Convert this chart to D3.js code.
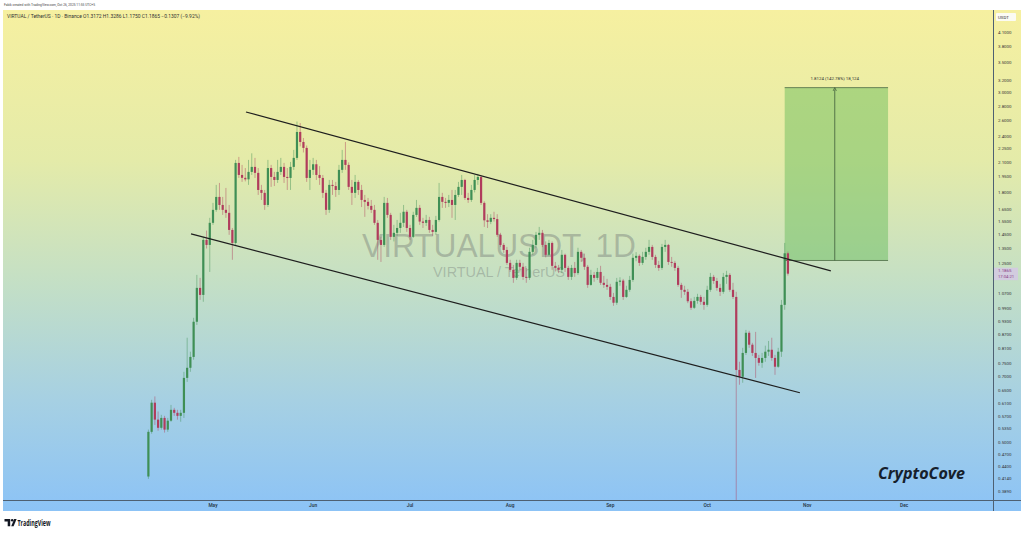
<!DOCTYPE html>
<html><head><meta charset="utf-8">
<script src="https://cdn.jsdelivr.net/npm/d3@7"></script>
<style>html,body{margin:0;padding:0;background:#fff;overflow:hidden;} svg{display:block;}</style>
</head><body><svg id="c" width="1024" height="535"></svg>
<script>
// ---------- DATA ----------
const firstDay = "2025-04-11";
const lastDay = "2025-10-26";
const open = [0.419,0.527,0.612,0.561,0.538,0.566,0.533,0.558,0.590,0.581,0.572,0.581,0.695,0.732,0.774,0.927,1.103,1.064,1.411,1.375,
1.540,1.646,1.759,1.688,1.646,1.621,1.485,1.389,2.094,1.969,1.940,1.925,2.000,2.052,1.990,1.823,1.796,1.688,2.040,1.949,
1.919,2.000,2.052,1.949,1.939,2.052,2.149,2.455,2.332,2.262,1.939,2.021,2.080,1.969,1.939,1.796,1.646,1.871,1.860,1.823,
2.021,2.127,2.073,1.852,1.796,1.900,1.823,1.732,1.715,1.680,1.646,1.540,1.411,1.375,1.706,1.604,1.433,1.463,1.500,1.540,
1.630,1.500,1.433,1.604,1.663,1.550,1.540,1.563,1.485,1.470,1.563,1.759,1.715,1.706,1.732,1.688,1.777,1.852,1.919,1.750,
1.732,1.823,1.919,1.949,1.706,1.560,1.548,1.580,1.570,1.448,1.375,1.340,1.254,1.210,1.161,1.254,1.229,1.167,1.161,1.327,
1.375,1.448,1.463,1.375,1.307,1.389,1.235,1.222,1.210,1.307,1.222,1.167,1.222,1.190,1.327,1.287,1.229,1.120,1.179,1.161,
1.197,1.132,1.120,1.109,1.053,1.022,1.138,1.145,1.053,1.092,1.149,1.287,1.300,1.254,1.293,1.327,1.361,1.293,1.241,1.222,
1.361,1.375,1.260,1.254,1.222,1.120,1.092,1.081,1.030,0.996,1.032,1.053,1.027,1.011,1.092,1.167,1.143,1.103,1.081,1.167,
1.179,1.092,1.053,0.724,0.699,0.790,0.876,0.824,0.790,0.770,0.751,0.770,0.795,0.803,0.770,0.736,0.795,1.011,1.3172];
const high = [0.533,0.621,0.632,0.585,0.575,0.572,0.566,0.605,0.596,0.590,0.590,0.717,0.854,0.795,0.946,1.179,1.161,1.433,1.480,1.580,
1.706,1.871,1.890,1.759,1.842,1.688,1.500,2.127,2.160,2.073,2.040,2.127,2.200,2.149,2.040,1.871,1.823,2.127,2.073,2.000,
2.127,2.149,2.094,2.040,2.105,2.239,2.590,2.570,2.380,2.290,2.127,2.149,2.127,2.060,1.969,1.823,1.919,1.919,1.900,2.073,
2.239,2.332,2.100,1.919,1.969,1.919,1.871,1.777,1.750,1.732,1.688,1.563,1.433,1.759,1.750,1.621,1.524,1.563,1.621,1.688,
1.646,1.524,1.630,1.732,1.688,1.580,1.604,1.588,1.524,1.596,1.890,1.796,1.750,1.777,1.823,1.823,1.900,1.969,1.930,1.796,
1.871,1.969,1.980,1.960,1.720,1.610,1.610,1.630,1.610,1.463,1.389,1.361,1.274,1.241,1.274,1.274,1.254,1.222,1.355,1.411,
1.470,1.508,1.485,1.400,1.411,1.400,1.260,1.241,1.340,1.315,1.235,1.241,1.260,1.355,1.340,1.315,1.241,1.210,1.197,1.222,
1.235,1.173,1.155,1.126,1.075,1.161,1.165,1.155,1.115,1.173,1.315,1.325,1.310,1.327,1.355,1.411,1.375,1.307,1.267,1.382,
1.411,1.382,1.293,1.267,1.235,1.132,1.115,1.097,1.045,1.053,1.070,1.064,1.053,1.115,1.191,1.179,1.161,1.126,1.191,1.204,
1.190,1.132,1.081,0.755,0.811,0.889,0.885,0.832,0.880,0.782,0.790,0.820,0.840,0.854,0.782,0.811,1.037,1.389,1.3286];
const low = [0.414,0.522,0.546,0.530,0.533,0.525,0.527,0.555,0.572,0.561,0.555,0.566,0.681,0.717,0.763,0.912,1.037,1.027,1.350,1.197,
1.524,1.630,1.646,1.604,1.580,1.448,1.274,1.375,1.939,1.900,1.905,1.871,1.969,1.939,1.777,1.732,1.646,1.670,1.852,1.860,
1.890,1.969,1.890,1.823,1.823,2.021,2.127,2.280,2.210,1.900,1.823,1.969,1.919,1.871,1.750,1.604,1.621,1.777,1.759,1.777,
1.990,2.021,1.823,1.688,1.750,1.777,1.670,1.588,1.650,1.620,1.524,1.274,1.260,1.361,1.580,1.411,1.400,1.440,1.463,1.508,
1.470,1.411,1.425,1.588,1.524,1.500,1.516,1.463,1.440,1.448,1.550,1.663,1.663,1.670,1.580,1.563,1.759,1.777,1.732,1.706,
1.715,1.800,1.871,1.688,1.508,1.500,1.530,1.550,1.433,1.361,1.320,1.241,1.197,1.132,1.149,1.200,1.149,1.132,1.149,1.307,
1.355,1.411,1.360,1.290,1.300,1.210,1.200,1.190,1.190,1.197,1.149,1.149,1.167,1.179,1.260,1.210,1.103,1.115,1.138,1.149,
1.120,1.103,1.092,1.037,1.006,1.011,1.115,1.037,1.048,1.081,1.138,1.265,1.235,1.241,1.274,1.307,1.274,1.222,1.204,1.210,
1.327,1.241,1.229,1.204,1.109,1.048,1.064,1.020,0.985,0.990,1.017,1.011,0.986,1.001,1.081,1.126,1.087,1.058,1.070,1.126,
1.081,1.042,0.300,0.671,0.678,0.782,0.811,0.778,0.695,0.740,0.732,0.755,0.778,0.759,0.706,0.732,0.774,0.986,1.1750];
const close = [0.527,0.612,0.561,0.538,0.566,0.533,0.558,0.590,0.581,0.572,0.581,0.695,0.732,0.774,0.927,1.103,1.064,1.411,1.375,1.540,
1.646,1.759,1.688,1.646,1.621,1.485,1.389,2.094,1.969,1.940,1.925,2.000,2.052,1.990,1.823,1.796,1.688,2.040,1.949,1.919,
2.000,2.052,1.949,1.939,2.052,2.149,2.455,2.332,2.262,1.939,2.021,2.080,1.969,1.939,1.796,1.646,1.871,1.860,1.823,2.021,
2.127,2.073,1.852,1.796,1.900,1.823,1.732,1.715,1.680,1.646,1.540,1.411,1.375,1.706,1.604,1.433,1.463,1.500,1.540,1.630,
1.500,1.433,1.604,1.663,1.550,1.540,1.563,1.485,1.470,1.563,1.759,1.715,1.706,1.732,1.688,1.777,1.852,1.919,1.750,1.732,
1.823,1.919,1.949,1.706,1.560,1.548,1.580,1.570,1.448,1.375,1.340,1.254,1.210,1.161,1.254,1.229,1.167,1.161,1.327,1.375,
1.448,1.463,1.375,1.307,1.389,1.235,1.222,1.210,1.307,1.222,1.167,1.222,1.190,1.327,1.287,1.229,1.120,1.179,1.161,1.197,
1.132,1.120,1.109,1.053,1.022,1.138,1.145,1.053,1.092,1.149,1.287,1.300,1.254,1.293,1.327,1.361,1.293,1.241,1.222,1.361,
1.375,1.260,1.254,1.222,1.120,1.092,1.081,1.030,0.996,1.032,1.053,1.027,1.011,1.092,1.167,1.143,1.103,1.081,1.167,1.179,
1.092,1.053,0.724,0.699,0.790,0.876,0.824,0.790,0.770,0.751,0.770,0.795,0.803,0.770,0.736,0.795,1.011,1.3172,1.1865];

const priceTicks = [4.1,3.8,3.5,3.2,3.0,2.8,2.6,2.4,2.25,2.1,1.95,1.8,1.65,1.55,1.45,1.35,1.25,1.07,0.99,0.93,0.87,0.81,0.75,0.70,0.65,0.61,0.57,0.535,0.50,0.47,0.44,0.414,0.389];
const monthTicks = ["2025-05-01","2025-06-01","2025-07-01","2025-08-01","2025-09-01","2025-10-01","2025-11-01","2025-12-01"];
const monthLabels = ["May","Jun","Jul","Aug","Sep","Oct","Nov","Dec"];
const upperChannel = [["2025-05-11T05:00",2.72],["2025-11-08T07:00",1.204]];
const lowerChannel = [["2025-04-24T05:00",1.455],["2025-10-29T17:00",0.644]];
const targetFrom = "2025-10-25", targetTo = "2025-11-26", targetMid = "2025-11-09T12:00";
const targetLow = 1.2694, targetHigh = 3.0818;
const targetLabel = "1.8124 (142.78%) 18,124";
const lastPrice = 1.1865, countdown = "17:04:21";
const headerTop = "Fabik created with TradingView.com, Oct 26, 2025 11:55 UTC+5";
const headerLegend = "VIRTUAL / TetherUS · 1D · Binance  O1.3172  H1.3286  L1.1750  C1.1865  −0.1307 (−9.92%)";

// ---------- SETUP ----------
const svg = d3.select("#c");
const P = {left: 3, right: 993, top: 10, bottom: 500, axisRight: 1021, axisBottom: 511};
const parse = d3.utcParse("%Y-%m-%d"), parseT = d3.utcParse("%Y-%m-%dT%H:%M");
const pd = s => s.length > 10 ? parseT(s) : parse(s);

const x = d3.scaleUtc().domain([parse("2025-04-11"), parse("2025-12-01")]).range([148.4, 904.2]);
const y = d3.scaleLog().domain([0.389, 4.1]).range([491, 32]);

const days = d3.utcDay.range(parse(firstDay), d3.utcDay.offset(parse(lastDay), 1));
const candles = days.map((d, i) => ({d, o: open[i], h: high[i], l: low[i], c: close[i]}));

// background gradient
const defs = svg.append("defs");
const g = defs.append("linearGradient").attr("id", "bg").attr("x1", 0).attr("y1", 0).attr("x2", 0).attr("y2", 1);
[[0, "#f6f0a0"], [0.3, "#e4eba9"], [0.55, "#c3dfc6"], [0.78, "#a6d0e3"], [1, "#8cc3f6"]]
  .forEach(([o, c]) => g.append("stop").attr("offset", o).attr("stop-color", c));
defs.append("clipPath").attr("id", "pane").append("rect")
  .attr("x", P.left).attr("y", P.top).attr("width", P.right - P.left).attr("height", P.bottom - P.top);

svg.append("rect").attr("x", P.left).attr("y", P.top).attr("width", P.axisRight - P.left)
  .attr("height", P.axisBottom - P.top).attr("fill", "url(#bg)");

// header
svg.append("text").attr("x", 4).attr("y", 6).attr("font-family", "Roboto, 'Liberation Sans', sans-serif")
  .attr("font-size", 4).attr("fill", "#444").attr("textLength", 91).attr("lengthAdjust", "spacingAndGlyphs").text(headerTop);
svg.append("text").attr("x", 7).attr("y", 17.5).attr("font-family", "Roboto, 'Liberation Sans', sans-serif")
  .attr("font-size", 4.6).attr("fill", "#333").attr("textLength", 193).attr("lengthAdjust", "spacingAndGlyphs").text(headerLegend);

const pane = svg.append("g").attr("clip-path", "url(#pane)");

// watermark
pane.append("text").attr("x", 499).attr("y", 257).attr("text-anchor", "middle")
  .attr("font-family", "'Liberation Sans', Arial, sans-serif").attr("font-size", 34)
  .attr("fill", "rgba(105,110,110,0.38)").attr("textLength", 274).attr("lengthAdjust", "spacingAndGlyphs").text("VIRTUALUSDT, 1D");
pane.append("text").attr("x", 499).attr("y", 277).attr("text-anchor", "middle")
  .attr("font-family", "'Liberation Sans', Arial, sans-serif").attr("font-size", 14)
  .attr("fill", "rgba(105,110,110,0.35)").attr("textLength", 132).attr("lengthAdjust", "spacingAndGlyphs").text("VIRTUAL / TetherUS");

// target box
const tx0 = x(pd(targetFrom)), tx1 = x(pd(targetTo)), tm = x(pd(targetMid));
pane.append("rect").attr("x", tx0).attr("y", y(targetHigh)).attr("width", tx1 - tx0)
  .attr("height", y(targetLow) - y(targetHigh)).attr("fill", "rgba(95,185,85,0.45)");
pane.append("line").attr("x1", tx0).attr("x2", tx1).attr("y1", y(targetHigh)).attr("y2", y(targetHigh))
  .attr("stroke", "#4d6a45").attr("stroke-width", 0.8);
pane.append("line").attr("x1", tx0).attr("x2", tx1).attr("y1", y(targetLow)).attr("y2", y(targetLow))
  .attr("stroke", "#4d6a45").attr("stroke-width", 0.8);
pane.append("line").attr("x1", tm).attr("x2", tm).attr("y1", y(targetLow)).attr("y2", y(targetHigh) + 2)
  .attr("stroke", "#3f5a3a").attr("stroke-width", 0.8);
pane.append("path").attr("d", `M${tm - 1.6},${y(targetHigh) + 3.2}L${tm},${y(targetHigh)}L${tm + 1.6},${y(targetHigh) + 3.2}`)
  .attr("fill", "none").attr("stroke", "#3f5a3a").attr("stroke-width", 0.8);
pane.append("text").attr("x", tm).attr("y", y(targetHigh) - 7.5).attr("text-anchor", "middle")
  .attr("font-family", "Roboto, 'Liberation Sans', sans-serif").attr("font-size", 4.4).attr("fill", "#333").text(targetLabel);

// candles
const up = "#3f8f55", dn = "#b03c5c";
const cg = pane.append("g");
cg.selectAll("line.w").data(candles).join("line")
  .attr("x1", d => x(d.d)).attr("x2", d => x(d.d)).attr("y1", d => y(d.h)).attr("y2", d => y(Math.max(d.l, 0.2)))
  .attr("stroke", d => d.c >= d.o ? up : dn).attr("stroke-opacity", 0.5).attr("stroke-width", 0.9);
cg.selectAll("rect").data(candles).join("rect")
  .attr("x", d => x(d.d) - 1.1).attr("width", 2.2)
  .attr("y", d => y(Math.max(d.o, d.c)))
  .attr("height", d => Math.max(0.8, Math.abs(y(d.o) - y(d.c))))
  .attr("fill", d => d.c >= d.o ? up : dn);

// channel lines
const line = d3.line().x(d => x(pd(d[0]))).y(d => y(d[1]));
[upperChannel, lowerChannel].forEach(ch =>
  pane.append("path").attr("d", line(ch)).attr("stroke", "#1e1e1e").attr("stroke-width", 1.2).attr("fill", "none"));

// axes frame
svg.append("line").attr("x1", P.left).attr("x2", P.axisRight).attr("y1", P.bottom + 0.5).attr("y2", P.bottom + 0.5)
  .attr("stroke", "#4e6072").attr("stroke-width", 1);
svg.append("line").attr("x1", P.right + 0.5).attr("x2", P.right + 0.5).attr("y1", P.top).attr("y2", P.axisBottom)
  .attr("stroke", "#4e6072").attr("stroke-width", 1);

// price axis labels
const fmt = d3.format(".4f");
svg.append("g").selectAll("text").data(priceTicks).join("text")
  .attr("x", 998).attr("y", d => y(d) + 1.5)
  .attr("font-family", "Roboto, 'Liberation Sans', sans-serif").attr("font-size", 4.4).attr("fill", "#333")
  .text(d => fmt(d));

// USDT label
svg.append("rect").attr("x", 996).attr("y", 13).attr("width", 20).attr("height", 8).attr("rx", 1).attr("fill", "#fbfbf3");
svg.append("text").attr("x", 998).attr("y", 18.6).attr("font-family", "Roboto, 'Liberation Sans', sans-serif")
  .attr("font-size", 4.4).attr("fill", "#333").text("USDT");

// last price label
const ly = y(lastPrice);
svg.append("rect").attr("x", 994).attr("y", ly - 6).attr("width", 24).attr("height", 12.5).attr("fill", "rgba(215,195,235,0.7)");
svg.append("text").attr("x", 998).attr("y", ly - 1.5).attr("font-family", "Roboto, 'Liberation Sans', sans-serif")
  .attr("font-size", 4.4).attr("fill", "#8a3a86").text(fmt(lastPrice));
svg.append("text").attr("x", 998).attr("y", ly + 4.5).attr("font-family", "Roboto, 'Liberation Sans', sans-serif")
  .attr("font-size", 4.2).attr("fill", "#8a3a86").text(countdown);

// time axis labels
svg.append("g").selectAll("text").data(monthTicks).join("text")
  .attr("x", d => x(parse(d))).attr("y", 507.2).attr("text-anchor", "middle")
  .attr("font-family", "Roboto, 'Liberation Sans', sans-serif").attr("font-size", 4.8).attr("font-weight", 600)
  .attr("fill", "#2a3a4a").text((d, i) => monthLabels[i]);

// CryptoCove
svg.append("text").attr("x", 878).attr("y", 479).attr("font-family", "'Open Sans', 'DejaVu Sans', sans-serif")
  .attr("font-size", 15.5).attr("font-weight", 700).attr("font-style", "italic").attr("fill", "#16202c")
  .attr("textLength", 87).attr("lengthAdjust", "spacingAndGlyphs").text("CryptoCove");

// TradingView logo
const logo = svg.append("g").attr("fill", "#131722");
logo.append("path").attr("d", "M4.5,519 H10.2 V526.2 H7.7 V521.4 H4.5 Z");
logo.append("circle").attr("cx", 12.2).attr("cy", 520.3).attr("r", 1.3);
logo.append("path").attr("d", "M11.2,526.2 L14.2,519 H16.6 L13.6,526.2 Z");
logo.append("text").attr("x", 17.5).attr("y", 525.6).attr("font-family", "'Open Sans', 'Liberation Sans', sans-serif")
  .attr("font-size", 8).attr("font-weight", 700).attr("textLength", 33).attr("lengthAdjust", "spacingAndGlyphs").text("TradingView");
</script></body></html>
